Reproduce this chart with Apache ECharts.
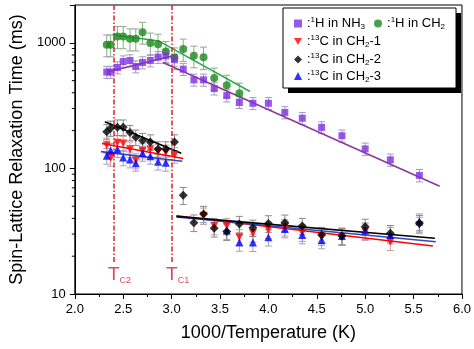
<!DOCTYPE html>
<html><head><meta charset="utf-8">
<script src="https://cdn.jsdelivr.net/npm/echarts@6.0.0/dist/echarts.min.js"></script>
<style>html,body{margin:0;padding:0;background:#fff}#c{width:474px;height:349px}</style>
</head><body><div id="c"></div>
<script>
// x positions (1000/T)
const xLow  = [2.33, 2.37, 2.44, 2.50, 2.57, 2.63, 2.70, 2.78, 2.86, 2.94, 3.03];
const xHigh = [3.12, 3.23, 3.33, 3.44, 3.57, 3.70, 3.84, 4.00, 4.17, 4.35, 4.55, 4.76, 5.00, 5.26, 5.56];
const xAll = xLow.concat(xHigh);

// T1 values (ms), null = no point
const hNH3 = [585, 585, 636, 709, 723, 647, 697, 723, 769, 787, 733,
              617, 507, 507, 432, 380, 337, 330, 330, 279, 251, 212, 182, 143, 117, 88];
const hNH3Err = [64, 64, 70, 78, 80, 71, 77, 80, 85, 87, 81,
                 68, 56, 56, 48, 42, 37, 36, 36, 31, 28, 23, 20, 16, 13, 10];
const hCH2 = [964, 964, 1122, 1122, 1076, 1076, 1216, 995, 975, 853, 760,
              891, 787, 769, 524, 460, 397, null, null, null, null, null, null, null, null, null];
const hCH2Err = [190, 190, 225, 225, 215, 215, 240, 200, 195, 170, 150,
                 180, 155, 155, 105, 92, 80, null, null, null, null, null, null, null, null, null];
const c1 = [153, 121, 160, 158, 142, 115, 138, 142, 136, 134, 128,
            null, null, 42, 34.8, 34.8, 28.3, 30.5, 32.4, 34, 30.8, 28.6, 28.6, 31.4, 26.1, 35.5];
const c1Err = [21, 17, 22, 22, 20, 16, 19, 20, 19, 19, 18,
               null, null, 6.3, 5.2, 5.2, 4.2, 4.6, 4.9, 5.1, 4.6, 4.3, 4.3, 4.7, 3.9, 5.3];
const c2 = [196, 209, 213, 213, 193, 177, 167, 162, 143, 143, 162,
            61, 37, 43.4, 33.4, 31.4, 36.1, 33.7, 36.5, 37, 34.8, 29.5, 29, 34.3, 30.5, 36.6];
const c2Err = [27, 29, 30, 30, 27, 25, 23, 23, 20, 20, 23,
               9.5, 5.6, 6.5, 5, 4.7, 5.4, 5, 5.5, 5.5, 5.2, 4.4, 4.4, 5.1, 4.6, 5.5];
const c3 = [126, 139, 142, 122, 118, 110, 132, 125, 113, 111, null,
            null, null, null, null, 32, 25.8, 25.7, 28.3, 33, 29.5, 26.9, 29, 32, 29.5, 37.7];
const c3Err = [18, 19, 20, 17, 17, 15, 18, 17, 16, 16, null,
               null, null, null, null, 4.8, 3.9, 3.9, 4.2, 5, 4.4, 4, 4.4, 4.8, 4.4, 5.7];

// fitted lines [x, T1]
const fitNH3Low  = [[2.33, 585], [3.06, 802]];
const fitNH3High = [[2.91, 697], [5.77, 72]];
const fitCH2Low  = [[2.39, 1160], [2.87, 1035]];
const fitCH2High = [[2.86, 1040], [3.81, 409]];
const fitC1Low  = [[2.28, 158], [3.12, 120]];
const fitC2Low  = [[2.31, 235], [3.10, 132]];
const fitC3Low  = [[2.27, 136], [3.11, 114]];
const fitC1High = [[3.05, 42], [5.70, 24.1]];
const fitC2High = [[3.05, 41.5], [5.72, 27.8]];
const fitC3High = [[3.05, 41], [5.73, 26.1]];

// transition temperatures
const tcX = [2.4, 3.0];
const tcNames = ['C2', 'C1'];
const tcLineMin = 18;
const tcLabelY = 15.5;

// axes
const xMin = 2.0, xMax = 6.0, xStep = 0.5;
const yMin = 10, yMax = 2000;
const yMinorTicks = [20, 30, 40, 50, 60, 70, 80, 90, 200, 300, 400, 500, 600, 700, 800, 900];

const legendLabels = {
  'NH3': ':{sup|1}H in NH{sub|3}',
  'CH2': ':{sup|1}H in CH{sub|2}',
  'C1': ':{sup|13}C in CH{sub|2}-1',
  'C2': ':{sup|13}C in CH{sub|2}-2',
  'C3': ':{sup|13}C in CH{sub|2}-3'
};

const FONT = 'Liberation Sans, Arial, sans-serif';

function pts(ys) {
  const out = [];
  xAll.forEach((x, i) => { if (ys[i] != null) out.push([x, ys[i]]); });
  return out;
}
function errPts(ys, es) {
  const out = [];
  xAll.forEach((x, i) => { if (ys[i] != null) out.push([x, ys[i], es[i]]); });
  return out;
}
function errSeries(ys, es, color) {
  return {
    type: 'custom', silent: true, z: 2,
    data: errPts(ys, es), encode: { x: 0, y: 1 },
    renderItem: function (params, api) {
      const x = api.value(0), y = api.value(1), e = api.value(2);
      const t = api.coord([x, y + e]), b = api.coord([x, y - e]);
      const w = 3.5;
      const st = { stroke: color, lineWidth: 1 };
      return { type: 'group', children: [
        { type: 'line', shape: { x1: t[0], y1: t[1], x2: b[0], y2: b[1] }, style: st },
        { type: 'line', shape: { x1: t[0] - w, y1: t[1], x2: t[0] + w, y2: t[1] }, style: st },
        { type: 'line', shape: { x1: b[0] - w, y1: b[1], x2: b[0] + w, y2: b[1] }, style: st }
      ]};
    }
  };
}
function fitSeries(data, color) {
  return { type: 'line', data: data, symbol: 'none', silent: true, z: 3,
           lineStyle: { color: color, width: 1.6 } };
}
function scatter(name, ys, symbol, size, color, z) {
  return { name: name, type: 'scatter', data: pts(ys), symbol: symbol, symbolSize: size,
           itemStyle: { color: color }, z: z, silent: true };
}

const downTri = 'path://M0,0 L10,0 L5,9 Z';
const legendRich = {
  sup: { fontSize: 8, fontFamily: FONT, color: '#000', verticalAlign: 'top', lineHeight: 15 },
  sub: { fontSize: 8, fontFamily: FONT, color: '#000', verticalAlign: 'bottom', lineHeight: 15 }
};
function mkLegend(names, top, gap) {
  return {
    data: names, left: 294, top: top, orient: 'horizontal', padding: 0,
    itemWidth: 8, itemHeight: 8, itemGap: gap || 10, z: 10, selectedMode: false,
    formatter: n => legendLabels[n],
    textStyle: { fontSize: 13, fontFamily: FONT, color: '#000', lineHeight: 15, rich: legendRich }
  };
}

const chart = echarts.init(document.getElementById('c'), null, { renderer: 'canvas' });
chart.setOption({
  animation: false,
  backgroundColor: '#fff',
  grid: { left: 68, right: 10, top: 5, bottom: 55, show: true, borderColor: '#000', borderWidth: 1 },
  graphic: [
    { type: 'rect', z: 8, shape: { x: 288, y: 13, width: 173, height: 80 }, style: { fill: '#000' } },
    { type: 'rect', z: 9, shape: { x: 283, y: 8, width: 173, height: 80 },
      style: { fill: '#fff', stroke: '#000', lineWidth: 1 } }
  ],
  legend: [
    mkLegend(['NH3', 'CH2'], 16, 9),
    mkLegend(['C1'], 34),
    mkLegend(['C2'], 52),
    mkLegend(['C3'], 68.5)
  ],
  xAxis: {
    type: 'value', min: xMin, max: xMax, interval: xStep,
    name: '1000/Temperature (K)', nameLocation: 'middle', nameGap: 30,
    nameTextStyle: { fontSize: 18, fontFamily: FONT, color: '#000' },
    axisLine: { lineStyle: { color: '#000', width: 1 } },
    axisTick: { length: 5, lineStyle: { color: '#000' } },
    minorTick: { show: true, splitNumber: 2, length: 3, lineStyle: { color: '#000' } },
    splitLine: { show: false },
    axisLabel: { fontSize: 13, fontFamily: FONT, color: '#000', margin: 9, formatter: v => v.toFixed(1) }
  },
  yAxis: {
    type: 'log', logBase: 10, min: yMin, max: yMax,
    name: 'Spin-Lattice Relaxation Time (ms)', nameLocation: 'middle', nameGap: 47,
    nameTextStyle: { fontSize: 18, fontFamily: FONT, color: '#000' },
    axisLine: { show: true, lineStyle: { color: '#000', width: 1 } },
    axisTick: { show: true, length: 5, lineStyle: { color: '#000' } },
    splitLine: { show: false },
    axisLabel: {
      fontSize: 13, fontFamily: FONT, color: '#000', margin: 9,
      formatter: v => {
        const l = Math.log10(v);
        return Math.abs(l - Math.round(l)) < 1e-6 ? String(Math.round(v)) : '';
      }
    }
  },
  series: [
    // y minor ticks (log spaced) through the axis scale
    {
      type: 'custom', silent: true, clip: false, z: 5,
      data: yMinorTicks.map(v => [xMin, v]), encode: { x: 0, y: 1 },
      renderItem: function (params, api) {
        const p = api.coord([api.value(0), api.value(1)]);
        return { type: 'line', shape: { x1: p[0] - 3, y1: p[1], x2: p[0], y2: p[1] },
                 style: { stroke: '#000', lineWidth: 1 } };
      }
    },
    // Tc lines and labels
    {
      type: 'scatter', silent: true, z: 4, symbolSize: 0,
      data: tcX.map(x => [x, tcLabelY]),
      label: {
        show: true, position: 'inside', offset: [6, 5],
        formatter: p => '{t|T}{s|' + tcNames[p.dataIndex] + '}',
        rich: {
          t: { fontSize: 19, fontFamily: FONT, color: '#cc2236', lineHeight: 19, verticalAlign: 'bottom' },
          s: { fontSize: 9, fontFamily: FONT, color: '#cc2236', lineHeight: 19, verticalAlign: 'bottom' }
        }
      },
      markLine: {
        silent: true, symbol: ['none', 'none'], animation: false,
        label: { show: false },
        lineStyle: { color: '#e0202a', width: 1.5, type: [5, 2, 1.5, 2] },
        data: tcX.map(x => [{ coord: [x, tcLineMin] }, { coord: [x, yMax] }])
      }
    },
    errSeries(hCH2, hCH2Err, '#8fa88f'),
    errSeries(hNH3, hNH3Err, '#a898c8'),
    errSeries(c1, c1Err, '#c8a0a0'),
    errSeries(c3, c3Err, '#a0a0c0'),
    errSeries(c2, c2Err, '#8a8a8a'),
    fitSeries(fitNH3Low, '#8b3a96'),
    fitSeries(fitNH3High, '#8b3a96'),
    fitSeries(fitCH2Low, '#2faa4a'),
    fitSeries(fitCH2High, '#2faa4a'),
    fitSeries(fitC1Low, '#ff0000'),
    fitSeries(fitC1High, '#ff0000'),
    fitSeries(fitC3Low, '#3048c0'),
    fitSeries(fitC3High, '#3048c0'),
    fitSeries(fitC2Low, '#000000'),
    fitSeries(fitC2High, '#000000'),
    scatter('CH2', hCH2, 'circle', 8, '#1a8a1a', 6),
    scatter('NH3', hNH3, 'rect', 7, '#7f2fe0', 7),
    scatter('C1', c1, downTri, 8, '#ff0000', 6),
    scatter('C3', c3, 'triangle', 8, '#0000ff', 6),
    scatter('C2', c2, 'diamond', 9, '#000000', 7)
  ]
});
</script>
</body></html>
